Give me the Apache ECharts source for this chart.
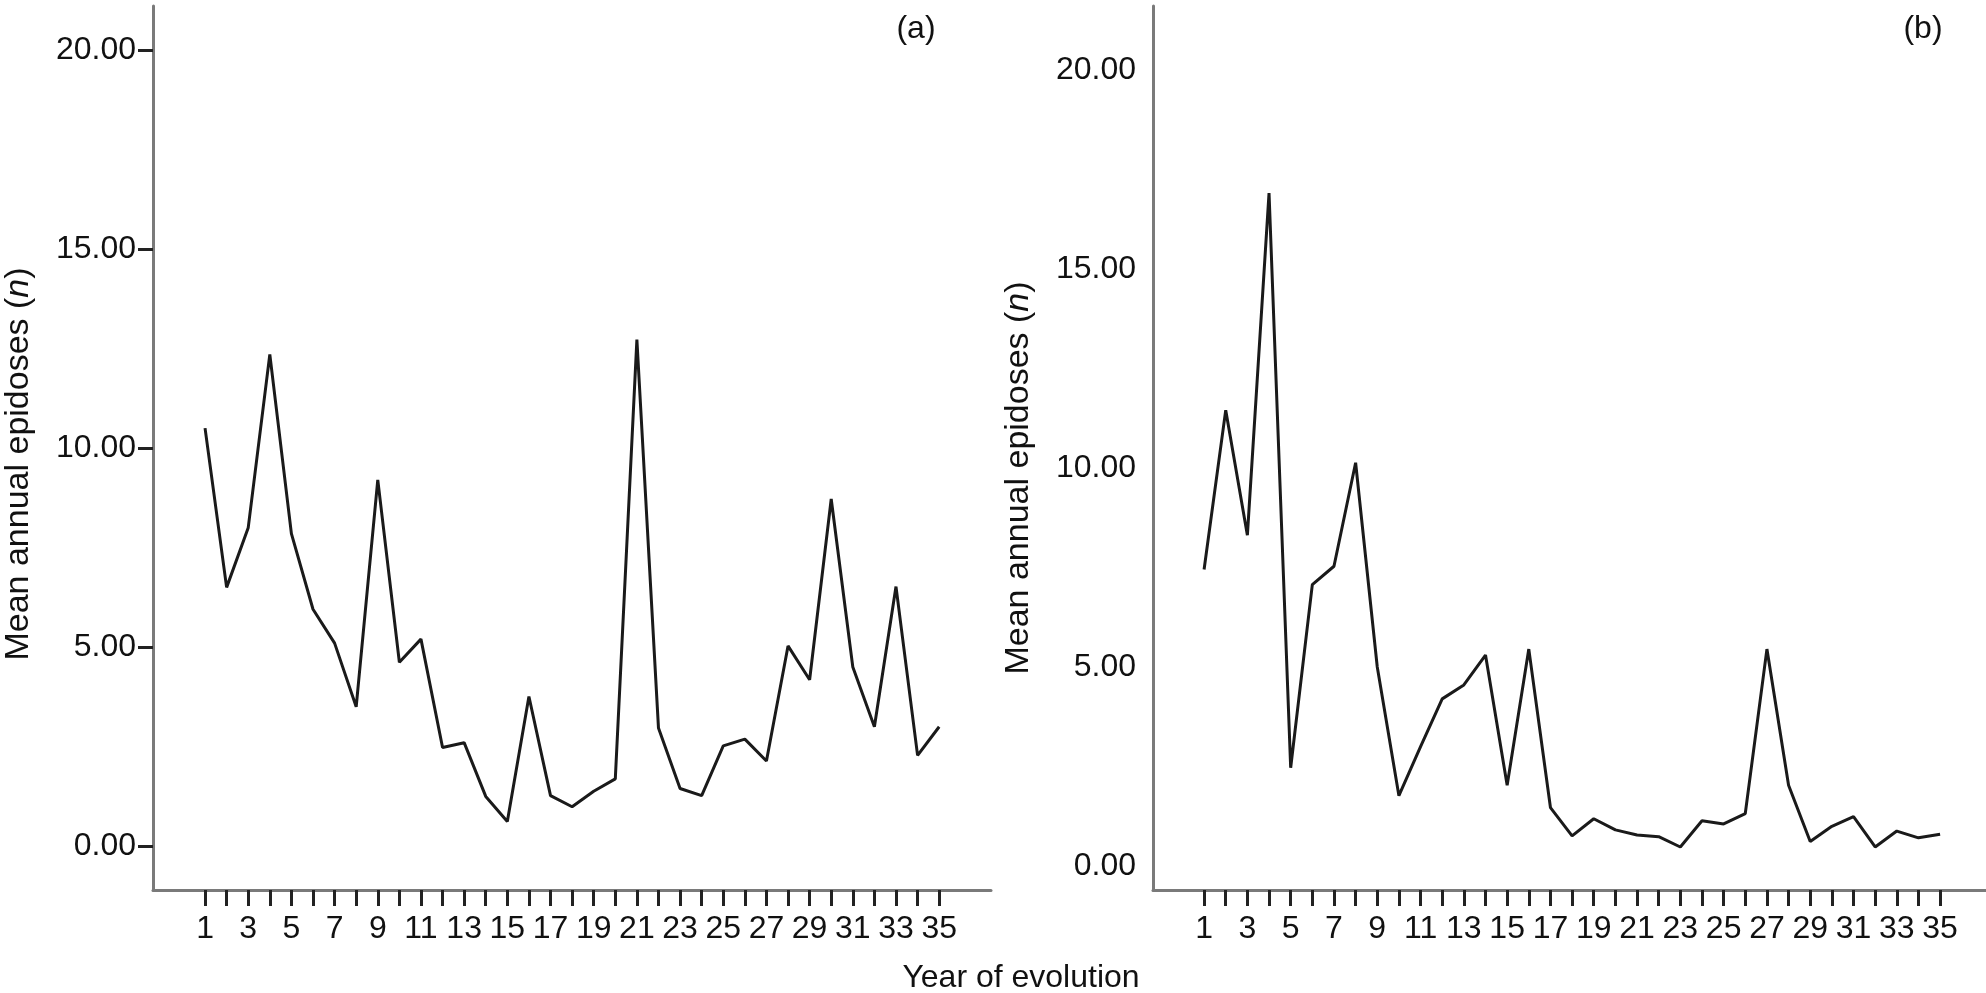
<!DOCTYPE html>
<html>
<head>
<meta charset="utf-8">
<script src="https://cdn.jsdelivr.net/npm/echarts@6/dist/echarts.min.js"></script>
<style>
  html, body { margin: 0; padding: 0; background: #fff; }
  #chart { width: 1986px; height: 993px; }
</style>
</head>
<body>
<div id="chart"></div>
<script>
(function(){
  // year of evolution, 1..35
  const years = [1,2,3,4,5,6,7,8,9,10,11,12,13,14,15,16,17,18,19,20,21,22,23,24,25,26,27,28,29,30,31,32,33,34,35];
  const yearLabels = [1,3,5,7,9,11,13,15,17,19,21,23,25,27,29,31,33,35];
  const yTicks = [0, 5, 10, 15, 20];

  // panel (a)
  const episodesA = [10.5,6.5,8.0,12.35,7.85,5.95,5.1,3.5,9.2,4.62,5.2,2.48,2.6,1.25,0.62,3.76,1.27,0.99,1.38,1.69,12.72,2.97,1.45,1.27,2.52,2.69,2.14,5.03,4.18,8.72,4.5,3.0,6.52,2.28,3.0];
  // panel (b)
  const episodesB = [7.45,11.45,8.31,16.9,2.47,7.07,7.53,10.13,5.0,1.77,3.0,4.2,4.55,5.3,2.03,5.45,1.47,0.76,1.19,0.91,0.78,0.74,0.48,1.14,1.06,1.32,5.45,2.03,0.62,1.0,1.24,0.48,0.88,0.71,0.8];

  const font = '"Liberation Sans", Arial, sans-serif';
  const axisGrey = '#7a7a7a';

  function pairs(vals){
    return vals.map((v, i) => [years[i], v]);
  }

  function xAxis(gridIndex, min, max){
    return {
      type: 'value', gridIndex, min, max,
      splitLine: { show: false },
      axisLine: { show: true, onZero: false, lineStyle: { color: axisGrey, width: 3 } },
      axisTick: { show: true, customValues: years, length: 16, lineStyle: { color: '#222', width: 3 } },
      axisLabel: {
        customValues: yearLabels, margin: 23,
        color: '#111', fontFamily: font, fontSize: 32
      }
    };
  }

  // shift = extra right padding, nudges the rotated title downwards
  function yAxis(gridIndex, min, max, withTicks, shift){
    return {
      type: 'value', gridIndex, min, max,
      splitLine: { show: false },
      axisLine: { show: true, onZero: false, lineStyle: { color: axisGrey, width: 3 } },
      axisTick: { show: withTicks, customValues: yTicks, length: 15, lineStyle: { color: '#222', width: 3 } },
      axisLabel: {
        customValues: yTicks, margin: 17,
        color: '#111', fontFamily: font, fontSize: 32,
        formatter: (v) => v.toFixed(2)
      },
      name: 'Mean annual epidoses ({i|n})',
      nameLocation: 'middle', nameRotate: 90, nameGap: 117, nameMoveOverlap: false,
      nameTextStyle: {
        color: '#111', fontFamily: font, fontSize: 34,
        padding: [0, shift, 0, 0],
        rich: { i: { fontStyle: 'italic', fontFamily: font, fontSize: 34, color: '#111' } }
      }
    };
  }

  const chart = echarts.init(document.getElementById('chart'), null, { renderer: 'canvas' });
  chart.setOption({
    animation: false,
    backgroundColor: '#fff',
    title: [
      { text: '(a)', left: 911, top: 8, textAlign: 'center',
        textStyle: { fontFamily: font, fontSize: 32, fontWeight: 'normal', color: '#111' } },
      { text: '(b)', left: 1918, top: 8, textAlign: 'center',
        textStyle: { fontFamily: font, fontSize: 32, fontWeight: 'normal', color: '#111' } },
      { text: 'Year of evolution', left: 1016, top: 957, textAlign: 'center',
        textStyle: { fontFamily: font, fontSize: 32, fontWeight: 'normal', color: '#111' } }
    ],
    grid: [
      { left: 153, right: 995, top: 6, bottom: 103 },
      { left: 1153, right: 0, top: 6, bottom: 103 }
    ],
    xAxis: [xAxis(0, -1.41, 37.4), xAxis(1, -1.36, 37.12)],
    yAxis: [yAxis(0, -1.1, 21.1, true, 32), yAxis(1, -0.6, 21.6, false, 60)],
    series: [
      { type: 'line', xAxisIndex: 0, yAxisIndex: 0, data: pairs(episodesA), symbol: 'none',
        lineStyle: { color: '#1a1a1a', width: 3 } },
      { type: 'line', xAxisIndex: 1, yAxisIndex: 1, data: pairs(episodesB), symbol: 'none',
        lineStyle: { color: '#1a1a1a', width: 3 } }
    ]
  });
})();
</script>
</body>
</html>
